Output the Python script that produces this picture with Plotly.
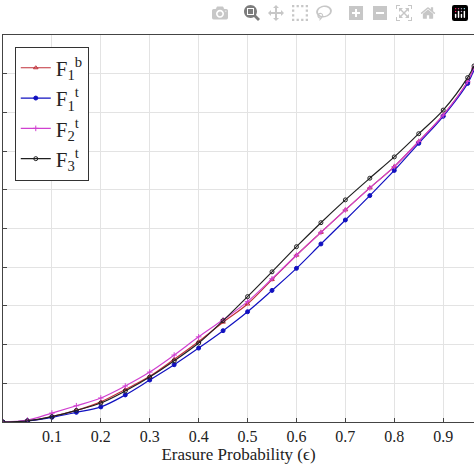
import plotly.graph_objects as go

eps = [0, .05, .1, .15, .2, .25, .3, .35, .4, .45, .5, .55, .6, .65, .7, .75, .8, .85, .9, .95, .963]
F1b = [0, .03, .14, .3, .52, .84, 1.18, 1.62, 2.08, 2.58, 3.05, 3.68, 4.31, 4.9, 5.48, 6.05, 6.6, 7.25, 7.93, 8.8, 9.15]
F1t = [0, .03, .12, .25, .39, .7, 1.085, 1.48, 1.91, 2.36, 2.85, 3.4, 3.97, 4.6, 5.22, 5.85, 6.5, 7.2, 7.9, 8.75, 9.1]
F2t = [0, .05, .23, .42, .62, .93, 1.29, 1.73, 2.2, 2.64, 3.11, 3.7, 4.31, 4.9, 5.48, 6.05, 6.6, 7.25, 7.93, 8.8, 9.15]
F3t = [0, .03, .14, .3, .49, .8, 1.16, 1.58, 2.04, 2.62, 3.24, 3.88, 4.53, 5.15, 5.74, 6.3, 6.85, 7.45, 8.06, 8.9, 9.2]
names = ["F<sub>1</sub><sup>b</sup>", "F<sub>1</sub><sup>t</sup>", "F<sub>2</sub><sup>t</sup>", "F<sub>3</sub><sup>t</sup>"]
series = [F1b, F1t, F2t, F3t]
colors = ["#c0303a", "#1010c0", "#d040d0", "#202020"]
symbols = ["triangle-up-open", "circle", "cross-thin-open", "circle-open"]

fig = go.Figure()
for n, s, c, m in zip(names, series, colors, symbols):
    fig.add_trace(go.Scatter(x=eps, y=[v / 10 for v in s], name=n, mode="lines+markers",
                             line=dict(color=c, width=1.2, shape="spline"),
                             marker=dict(symbol=m, size=4, color=c, line=dict(color=c, width=1))))

fig.update_layout(
    width=474, height=474, margin=dict(l=3, r=0, t=35, b=52),
    paper_bgcolor="white", plot_bgcolor="white",
    font=dict(family="Liberation Serif", color="#222"),
    showlegend=True,
    legend=dict(x=0.025, y=0.97, xanchor="left", yanchor="top", bgcolor="white",
                bordercolor="#333", borderwidth=1, font=dict(size=21),
                tracegroupgap=6),
    xaxis=dict(range=[0, 0.963], dtick=0.1, tickformat=".1f", showgrid=True, gridcolor="#e3e3e3",
               showline=True, linecolor="#444", mirror=True, ticks="inside", ticklen=4,
               tickfont=dict(size=16), zeroline=False,
               title=dict(text="Erasure Probability (ϵ)", font=dict(size=17), standoff=2)),
    yaxis=dict(range=[0, 1], dtick=0.1, showgrid=True, gridcolor="#e3e3e3", showticklabels=False,
               showline=True, linecolor="#444", mirror=True, ticks="inside", ticklen=4, zeroline=False),
)
fig.write_html("out.html", post_script="document.body.style.margin='0';document.body.style.overflow='hidden';")
